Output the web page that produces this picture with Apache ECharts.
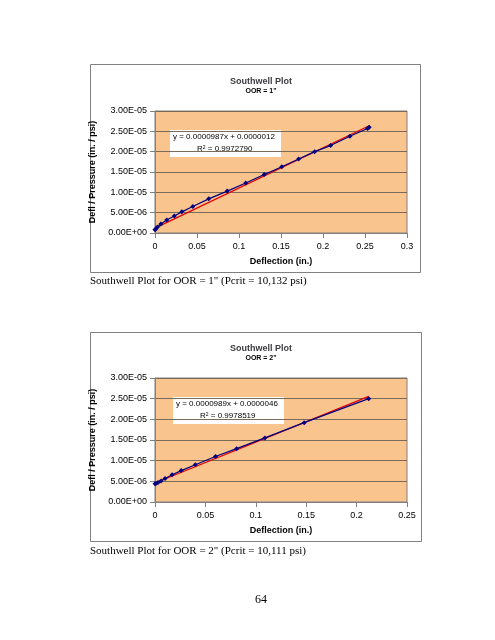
<!DOCTYPE html>
<html><head><meta charset="utf-8">
<script src="https://cdn.jsdelivr.net/npm/echarts@6/dist/echarts.min.js"></script>
<style>body{margin:0;background:#fff}#c{width:495px;height:640px}</style>
</head><body><div id="c"></div>
<script>
// OOR = 1"
var x1 = [0, 0.001, 0.003, 0.007, 0.014, 0.023, 0.032, 0.045, 0.064, 0.086, 0.108, 0.13, 0.151, 0.171, 0.19, 0.209, 0.232, 0.253, 0.255];
var y1 = [0.08e-5, 0.1e-5, 0.15e-5, 0.22e-5, 0.32e-5, 0.42e-5, 0.52e-5, 0.65e-5, 0.84e-5, 1.03e-5, 1.23e-5, 1.44e-5, 1.63e-5, 1.82e-5, 2.0e-5, 2.15e-5, 2.38e-5, 2.57e-5, 2.6e-5];
var fit1 = [0.0000987, 0.0000012];
// OOR = 2"
var x2 = [0, 0.001, 0.003, 0.006, 0.01, 0.017, 0.026, 0.04, 0.06, 0.081, 0.109, 0.148, 0.212];
var y2 = [0.44e-5, 0.45e-5, 0.47e-5, 0.51e-5, 0.57e-5, 0.66e-5, 0.76e-5, 0.9e-5, 1.1e-5, 1.29e-5, 1.55e-5, 1.92e-5, 2.5e-5];
var fit2 = [0.0000989, 0.0000046];

function pairs(xs, ys) { return xs.map(function (v, i) { return [v, ys[i]]; }); }
function line(xs, f) { var a = xs[0], b = xs[xs.length - 1]; return [[a, f[0] * a + f[1]], [b, f[0] * b + f[1]]]; }

var chart = echarts.init(document.getElementById('c'));
var font = 'Liberation Sans, Arial, sans-serif';
var ax = function (gi, max, interval, name) {
    return {
        gridIndex: gi, type: 'value', min: 0, max: max, interval: interval,
        name: name, nameLocation: 'middle', nameGap: 24,
        nameTextStyle: { fontWeight: 'bold', fontSize: 9, color: '#000', fontFamily: font },
        axisLine: { lineStyle: { color: '#808080' } }, axisTick: { show: true, lineStyle: { color: '#808080' } },
        axisLabel: { fontSize: 9, color: '#000', fontFamily: font, margin: 9 },
        splitLine: { show: false }
    };
};
var ay = function (gi) {
    return {
        gridIndex: gi, type: 'value', min: 0, max: 3e-5, interval: 0.5e-5,
        name: 'Defl / Pressure (in. / psi)', nameLocation: 'middle', nameGap: 50,
        nameTextStyle: { fontWeight: 'bold', fontSize: 9, color: '#000', fontFamily: font },
        axisLine: { show: true, lineStyle: { color: '#808080' } }, axisTick: { show: true, lineStyle: { color: '#808080' } },
        axisLabel: { fontSize: 9, color: '#000', fontFamily: font, formatter: function (v) { return v.toExponential(2).replace('e-', 'E-0').replace('e+', 'E+0'); } },
        splitLine: { lineStyle: { color: '#7a6a5a', width: 1 } }
    };
};
var ser = function (gi, xs, ys, f) {
    return [
        { type: 'line', xAxisIndex: gi, yAxisIndex: gi, data: line(xs, f), symbol: 'none', lineStyle: { color: '#e00000', width: 1.2 }, z: 2 },
        { type: 'line', xAxisIndex: gi, yAxisIndex: gi, data: pairs(xs, ys), symbol: 'diamond', symbolSize: 5, itemStyle: { color: '#000080' }, lineStyle: { color: '#000080', width: 1.2 }, z: 3 }
    ];
};
var eq = function (top, left, a, b) {
    return {
        type: 'group', left: left, top: top, children: [
            { type: 'rect', shape: { width: 111, height: 27 }, style: { fill: '#fff' } },
            { type: 'text', left: 3, top: 3, style: { text: a, font: '8px ' + font, fill: '#000' } },
            { type: 'text', left: 27, top: 15, style: { rich: { s: { fontSize: 5, verticalAlign: 'top', fontFamily: font } }, text: 'R{s|2} = ' + b, font: '8px ' + font, fill: '#000' } }
        ]
    };
};
var ttl = function (top, sub) {
    return { text: 'Southwell Plot', subtext: sub, left: 256, top: top, textAlign: 'center', itemGap: 2,
        textStyle: { fontSize: 9, fontWeight: 'bold', fontFamily: font }, subtextStyle: { fontSize: 7, fontWeight: 'bold', color: '#000', fontFamily: font } };
};
chart.setOption({
    animation: false,
    backgroundColor: '#fff',
    title: [ttl(72, 'OOR = 1"'), ttl(339, 'OOR = 2"')],
    grid: [
        { left: 155, width: 252, top: 111, height: 122, backgroundColor: '#F9C48E', show: true, borderColor: '#808080' },
        { left: 155, width: 252, top: 378, height: 124, backgroundColor: '#F9C48E', show: true, borderColor: '#808080' }
    ],
    xAxis: [ax(0, 0.3, 0.05, 'Deflection (in.)'), ax(1, 0.25, 0.05, 'Deflection (in.)')],
    yAxis: [ay(0), ay(1)],
    series: ser(0, x1, y1, fit1).concat(ser(1, x2, y2, fit2)),
    graphic: [
        { type: 'rect', shape: { x: 90.5, y: 64.5, width: 330, height: 208 }, style: { fill: null, stroke: '#808080' }, z: -1 },
        { type: 'rect', shape: { x: 90.5, y: 332.5, width: 331, height: 209 }, style: { fill: null, stroke: '#808080' }, z: -1 },
        eq(130, 170, 'y = 0.0000987x + 0.0000012', '0.9972790'),
        eq(397, 173, 'y = 0.0000989x + 0.0000046', '0.9978519'),
        { type: 'text', left: 90, top: 276, style: { text: 'Southwell Plot for OOR = 1" (Pcrit = 10,132 psi)', font: '11px Liberation Serif, serif', fill: '#000' } },
        { type: 'text', left: 90, top: 546, style: { text: 'Southwell Plot for OOR = 2" (Pcrit = 10,111 psi)', font: '11px Liberation Serif, serif', fill: '#000' } },
        { type: 'text', left: 255, top: 594, style: { text: '64', font: '12px Liberation Serif, serif', fill: '#000' } }
    ]
});
</script></body></html>
